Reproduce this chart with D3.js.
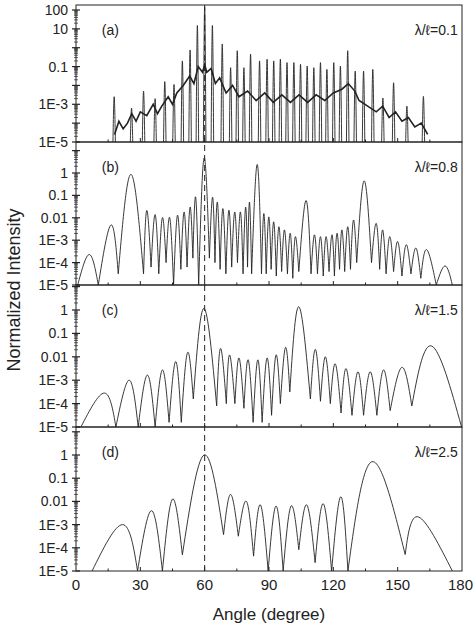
<!DOCTYPE html>
<html>
<head>
<meta charset="utf-8">
<script src="https://cdn.jsdelivr.net/npm/d3@7"></script>
<style>
  body { margin: 0; background: #fff; }
  svg { font-family: "Liberation Sans", Arial, sans-serif; }
</style>
</head>
<body>
<svg id="chart" width="474" height="627"></svg>
<script>
// values are log10(normalized intensity); nulls[i], peaks[i], nulls[i+1] form one lobe
const labelsA = ["100", "10", "0.1", "1E-3", "1E-5"];
const labelsBCD = ["1", "0.1", "0.01", "1E-3", "1E-4", "1E-5"];
const xTicks = [0, 30, 60, 90, 120, 150, 180];

// (a) lambda/l = 0.1 : sharp spikes plus a noisy background band
const spikesA = [[17.8,-2.6],[25.9,-3.2],[31.5,-2.3],[36.9,-2.7],[41.4,-1.8],[45.7,-1.95],
  [49.6,-0.7],[53.2,-0.12],[56.6,1.18],[60,2.17],[63.6,1.18],[68.2,0.2],[72.1,-1.06],
  [75.2,-0.16],[78.3,-1.06],[81.4,-0.34],[85.6,-0.7],[89.1,-0.61],[92.2,-0.7],[95.3,-0.61],
  [98.4,-0.79],[101.6,-0.79],[104.7,-0.88],[107.8,-0.97],[110.9,-1.06],[114,-0.79],
  [117,-1.15],[120.2,-0.79],[123.3,-0.97],[126.7,-0.16],[130.2,-1.24],[134.1,-1.24],
  [138.4,-1.15],[143.1,-2.67],[148.1,-1.86],[154.3,-3.1],[162,-2.58]];
const bandA = [[18,-4.6],[20,-3.9],[22,-4.3],[24,-4.0],[26,-3.5],[28,-3.9],[30,-3.4],[33,-3.6],
  [36,-3.0],[38,-3.5],[40,-3.1],[43,-2.6],[45,-3.0],[47,-2.4],[50,-2.0],[53,-1.5],[55,-1.9],
  [57,-1.0],[59,-1.3],[60,-0.9],[61,-1.3],[63,-1.1],[65,-1.9],[67,-1.6],[70,-2.4],[73,-2.0],
  [76,-2.6],[80,-2.3],[84,-2.8],[88,-2.4],[92,-2.9],[96,-2.5],[100,-2.9],[104,-2.5],
  [108,-2.9],[112,-2.5],[116,-2.8],[120,-2.4],[124,-2.2],[127,-1.9],[130,-2.3],[132,-2.8],
  [136,-3.1],[140,-3.4],[143,-3.1],[146,-3.7],[149,-3.4],[152,-3.9],[155,-3.7],[158,-4.2],
  [161,-4.0],[164,-4.6]];

// (b) lambda/l = 0.8
const nullsB = [[0.8,-5],[10.4,-5],[19.7,-4.5],[31.5,-4.5],[35.0,-4.2],[38.6,-4.5],[42.0,-4.0],
  [45.5,-5],[48.9,-4.3],[51.8,-4.2],[54.5,-3.8],[57.2,-5],[62.2,-3.8],[64.8,-4.0],[67.2,-4.3],
  [69.9,-4.5],[72.6,-4.2],[75.3,-4.0],[77.9,-4.5],[80.0,-4.2],[81.9,-4.5],[86.5,-4.5],
  [88.7,-4.5],[91.0,-4.3],[93.4,-4.6],[95.9,-4.4],[98.6,-4.5],[101.1,-4.7],[103.9,-4.4],
  [109.6,-4.5],[112.6,-4.5],[115.3,-4.6],[118.0,-4.4],[120.5,-4.6],[122.9,-4.3],[125.3,-4.4],
  [128.0,-4.3],[130.9,-4.0],[137.8,-4.0],[141.6,-4.3],[144.6,-4.5],[148.1,-4.4],[152.0,-4.6],
  [156.2,-4.5],[160.8,-4.7],[168.0,-5],[175.5,-5]];
const peaksB = [[6.2,-3.64],[16.3,-2.32],[25.6,-0.06],
  [33.0,-1.67],[36.9,-1.86],[40.3,-1.99],[43.7,-1.99],[47.3,-1.89],[50.4,-1.74],[53.2,-1.52],[55.8,-1.08],
  [59.7,0.67],
  [63.7,-1.08],[65.9,-1.3],[68.5,-1.59],[71.3,-1.66],[74.0,-1.74],[76.7,-1.74],[79.1,-1.52],[80.9,-1.3],
  [84.5,0.38],
  [87.6,-1.81],[89.9,-1.96],[92.2,-2.18],[94.6,-2.4],[97.2,-2.54],[99.9,-2.69],[102.3,-2.84],
  [107.3,-1.23],
  [111.2,-2.76],[114,-2.84],[116.6,-2.84],[119.4,-2.76],[121.7,-2.69],[124,-2.54],[126.7,-2.4],[129.4,-2.1],
  [134.4,-0.35],
  [140.0,-2.25],[143.0,-2.54],[146.3,-2.84],[150.0,-3.06],[154.0,-3.2],[158.5,-3.35],[163.5,-3.42],[172.1,-4.15]];

// (c) lambda/l = 1.5
const nullsC = [[2.3,-5],[18.6,-5],[29,-5],[36.9,-5],[43.4,-4.8],[49.1,-4.8],[54.7,-3.8],
  [65.6,-4.1],[70.1,-4],[74.1,-4],[78.3,-4.2],[82.6,-4.8],[86.8,-4.8],[91.2,-4.5],[95.3,-4],
  [99.7,-3.5],[109.3,-3.8],[114,-3.9],[118.6,-4],[123.6,-4.4],[128.7,-4.5],[134.1,-4.5],
  [140.3,-4.5],[146.5,-4.3],[156.6,-4.1],[179.8,-5]];
const peaksC = [[13.2,-3.55],[24.8,-3.0],[33.3,-2.78],[40.3,-2.56],[46.5,-2.2],[52,-1.82],
  [59.7,0.07],[67.4,-1.64],[71.6,-1.92],[76,-2.05],[80.3,-2.13],[84.8,-2.13],[89.1,-2.05],
  [93.3,-1.92],[97.7,-1.6],[103.9,0.14],[111.6,-1.68],[116.3,-2.0],[120.9,-2.3],[125.9,-2.5],
  [131.5,-2.64],[137.2,-2.64],[143.4,-2.56],[152,-2.45],[165.9,-1.54]];

// (d) lambda/l = 2.5
const nullsD = [[7.5,-5],[28.7,-5],[40.3,-5],[49.6,-4.3],[68.8,-3.43],[75.7,-3.5],[82.8,-4.36],
  [89.6,-5],[96.6,-5],[103.9,-4.08],[111.5,-4.64],[119.2,-5],[126.8,-5],[153.5,-4.29],[175.5,-5]];
const peaksD = [[21.7,-3.0],[35.2,-2.4],[45,-1.9],[59.7,0],[72.1,-1.7],[79.5,-2.0],[86.0,-2.15],
  [93.3,-2.2],[100.3,-2.2],[107.6,-2.15],[115.3,-2.1],[123.5,-1.8],[138,-0.29],[159.7,-2.67]];

const svg = d3.select("#chart");
const x = d3.scaleLinear().domain([0, 180]).range([76, 462]);
const ink = "#222";

const panels = [
  { id: "(a)", ratio: "0.1", top: 5, yMap: [[2, 10], [-5, 142]], bottom: 142, labels: labelsA, decades: [2, 1, -1, -3, -5], logMin: -5, logMax: 2.27 },
  { id: "(b)", ratio: "0.8", top: 142, yMap: [[0, 173], [-5, 285]], bottom: 285, labels: labelsBCD, decades: [0, -1, -2, -3, -4, -5], logMin: -5, logMax: 1.3 },
  { id: "(c)", ratio: "1.5", top: 285, yMap: [[0, 310], [-5, 427]], bottom: 427, labels: labelsBCD, decades: [0, -1, -2, -3, -4, -5], logMin: -5, logMax: 1.05 },
  { id: "(d)", ratio: "2.5", top: 427, yMap: [[0, 455], [-5, 571]], bottom: 571, labels: labelsBCD, decades: [0, -1, -2, -3, -4, -5], logMin: -5, logMax: 1.2 }
];
const series = [null, [nullsB, peaksB], [nullsC, peaksC], [nullsD, peaksD]];

panels.forEach((p, pi) => {
  const y = d3.scaleLog()
    .domain([Math.pow(10, p.yMap[0][0]), Math.pow(10, p.yMap[1][0])])
    .range([p.yMap[0][1], p.yMap[1][1]]);
  const Y = v => y(Math.pow(10, v));
  const g = svg.append("g");

  const clipId = "clip" + pi;
  svg.append("clipPath").attr("id", clipId).append("rect")
    .attr("x", x(0)).attr("y", p.top).attr("width", x(180) - x(0)).attr("height", p.bottom - p.top);

  // frame
  g.append("rect").attr("x", x(0)).attr("y", p.top)
    .attr("width", x(180) - x(0)).attr("height", p.bottom - p.top)
    .attr("fill", "none").attr("stroke", ink).attr("stroke-width", 1);

  // left axis: major + minor ticks
  for (let d = Math.floor(p.logMin); d < Math.ceil(p.logMax); d++) {
    for (let m = 1; m < 10; m++) {
      const v = d + Math.log10(m);
      if (v < p.logMin || v > p.logMax) continue;
      const major = m === 1;
      g.append("line").attr("x1", x(0) - (major ? 4 : 2)).attr("x2", x(0) + (major ? 4 : 2))
        .attr("y1", Y(v)).attr("y2", Y(v)).attr("stroke", ink).attr("stroke-width", major ? 1.2 : 0.7);
    }
  }
  p.decades.forEach((d, i) => {
    g.append("text").attr("x", x(0) - 8).attr("y", Y(d) + 5)
      .attr("text-anchor", "end").attr("font-size", 14).attr("fill", ink).text(p.labels[i]);
  });

  // bottom ticks
  d3.range(15, 180, 15).forEach(t => {
    g.append("line").attr("x1", x(t)).attr("x2", x(t))
      .attr("y1", p.bottom).attr("y2", p.bottom - (t % 30 === 0 ? 4 : 2.5))
      .attr("stroke", ink).attr("stroke-width", 1);
  });

  const plot = g.append("g").attr("clip-path", `url(#${clipId})`);
  const lobe = d3.line().x(d => x(d[0])).y(d => Y(d[1])).curve(d3.curveNatural);

  if (pi === 0) {
    const band = d3.line().x(d => x(d[0])).y(d => Y(d[1])).curve(d3.curveLinear);
    plot.append("path").attr("d", band(bandA)).attr("fill", "none")
      .attr("stroke", ink).attr("stroke-width", 1.6);
    spikesA.forEach(s => {
      plot.append("path")
        .attr("d", lobe([[s[0] - 0.6, -5.2], [s[0], s[1]], [s[0] + 0.6, -5.2]]))
        .attr("fill", "none").attr("stroke", ink).attr("stroke-width", 0.9);
    });
  } else {
    const [nulls, peaks] = series[pi];
    peaks.forEach((pk, i) => {
      plot.append("path")
        .attr("d", lobe([nulls[i], pk, nulls[i + 1]]))
        .attr("fill", "none").attr("stroke", ink).attr("stroke-width", 0.9);
    });
  }

  g.append("text").attr("x", x(12)).attr("y", p.top + 30)
    .attr("font-size", 14).attr("fill", ink).text(p.id);
  g.append("text").attr("x", x(178)).attr("y", p.top + 30)
    .attr("text-anchor", "end").attr("font-size", 14).attr("fill", ink)
    .text("λ/ℓ=" + p.ratio);
});

// dashed line at 60 degrees
svg.append("line").attr("x1", x(60)).attr("x2", x(60)).attr("y1", 5).attr("y2", 571)
  .attr("stroke", ink).attr("stroke-width", 1).attr("stroke-dasharray", "6,4");

// x tick labels and title
xTicks.forEach(t => {
  svg.append("text").attr("x", t === 180 ? 473 : x(t)).attr("y", 590)
    .attr("text-anchor", t === 180 ? "end" : "middle")
    .attr("font-size", 15).attr("fill", ink).text(t);
});
svg.append("text").attr("x", x(90)).attr("y", 620).attr("text-anchor", "middle")
  .attr("font-size", 17).attr("fill", ink).text("Angle (degree)");
svg.append("text").attr("transform", "translate(20,290) rotate(-90)")
  .attr("text-anchor", "middle").attr("font-size", 18).attr("fill", ink)
  .text("Normalized Intensity");
</script>
</body>
</html>
